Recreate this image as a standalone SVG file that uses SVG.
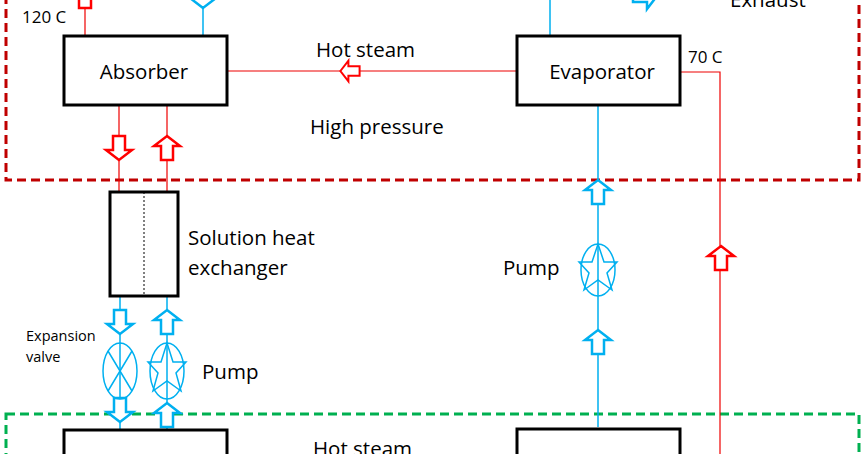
<svg xmlns="http://www.w3.org/2000/svg" xmlns:xlink="http://www.w3.org/1999/xlink" width="864" height="454" viewBox="0 0 864 454">
<style>
text{font-family:"Open Sans","Liberation Sans",sans-serif;fill:#000}
.box{fill:#fff;stroke:#000;stroke-width:3}
.r{stroke:#e00;stroke-width:1.2;fill:none}
.b{stroke:#00b0f0;stroke-width:1.5;fill:none}
.ra{fill:#fff;stroke:#f00;stroke-width:2.5}
.ba{fill:#fff;stroke:#00b0f0;stroke-width:2.5}
.t{font-size:20.5px}
</style>
<defs>
<path id="up" d="M0,-12 L13,-2 L6,-2 L6,12 L-6,12 L-6,-2 L-13,-2 Z"/>
</defs>
<rect x="6" y="-10" width="853" height="190" fill="none" stroke="#c00000" stroke-width="3" stroke-dasharray="9,5"/>
<rect x="6" y="414" width="853" height="60" fill="none" stroke="#00b050" stroke-width="3" stroke-dasharray="9,5"/>
<g id="connectors">
<path class="r" d="M85,0 V36 M227,71 H517 M119,105 V192 M167,105 V192 M680,72 H720 V454"/>
<path class="b" d="M203,0 V36 M550,0 V36 M120,296 V430 M167,296 V430 M598,105 V427"/>
<use href="#up" class="ra" transform="translate(85,-4)"/>
<use href="#up" class="ba" transform="translate(203,-4) rotate(180)"/>
<use href="#up" class="ba" transform="translate(645,-4) rotate(90)"/>
<use href="#up" class="ra" transform="translate(350,71) rotate(-90) scale(0.8)"/>
<use href="#up" class="ra" transform="translate(119,148) rotate(180)"/>
<use href="#up" class="ra" transform="translate(167,148)"/>
<use href="#up" class="ba" transform="translate(120,322) rotate(180)"/>
<use href="#up" class="ba" transform="translate(167,322)"/>
<use href="#up" class="ba" transform="translate(120,410) rotate(180)"/>
<use href="#up" class="ba" transform="translate(167,415)"/>
<use href="#up" class="ba" transform="translate(598,192)"/>
<use href="#up" class="ba" transform="translate(598,342)"/>
<use href="#up" class="ra" transform="translate(721,258)"/>
</g>
<g id="absorber"><rect class="box" x="64" y="36" width="163" height="69"/><text x="144" y="79" class="t" text-anchor="middle">Absorber</text></g>
<g id="evaporator"><rect class="box" x="517" y="36" width="163" height="69"/><text x="602" y="79" class="t" text-anchor="middle">Evaporator</text></g>
<g id="shx"><rect class="box" x="110" y="192" width="68" height="104"/><line x1="144" y1="192" x2="144" y2="296" stroke="#000" stroke-width="1" stroke-dasharray="2,2"/></g>
<g id="valve"><ellipse cx="120" cy="371" rx="17" ry="28" class="b" stroke-width="2.5"/><path class="b" d="M108,351 L132,391 M132,351 L108,391" stroke-width="1"/></g>
<g id="pump1"><ellipse cx="167" cy="371" rx="17" ry="28" class="b" stroke-width="2.5"/><polygon points="167,343 173,362 186,362 176,373 181,391 167,381 153,391 158,373 148,362 161,362" class="b" stroke-width="3"/></g>
<g id="pump2"><ellipse cx="598" cy="270" rx="17" ry="26" class="b" stroke-width="2.5"/><polygon points="598,244 604,262 617,262 607,273 612,290 598,280 584,290 589,273 579,262 592,262" class="b" stroke-width="3"/></g>
<g id="bottom-left"><rect class="box" x="64" y="430" width="163" height="40"/></g>
<g id="bottom-right"><rect class="box" x="517" y="429" width="163" height="40"/></g>
<text x="22" y="23" font-size="17">120 C</text>
<text x="730" y="7" class="t">Exhaust</text>
<text x="316" y="57" class="t">Hot steam</text>
<text x="310" y="134" class="t">High pressure</text>
<text x="688" y="63" font-size="17">70 C</text>
<text x="188" y="245" class="t">Solution heat</text>
<text x="188" y="275" class="t">exchanger</text>
<text x="26" y="341" font-size="14.5">Expansion</text>
<text x="26" y="362" font-size="14.5">valve</text>
<text x="202" y="379" class="t">Pump</text>
<text x="503" y="275" class="t">Pump</text>
<text x="313" y="456" class="t">Hot steam</text>
</svg>
